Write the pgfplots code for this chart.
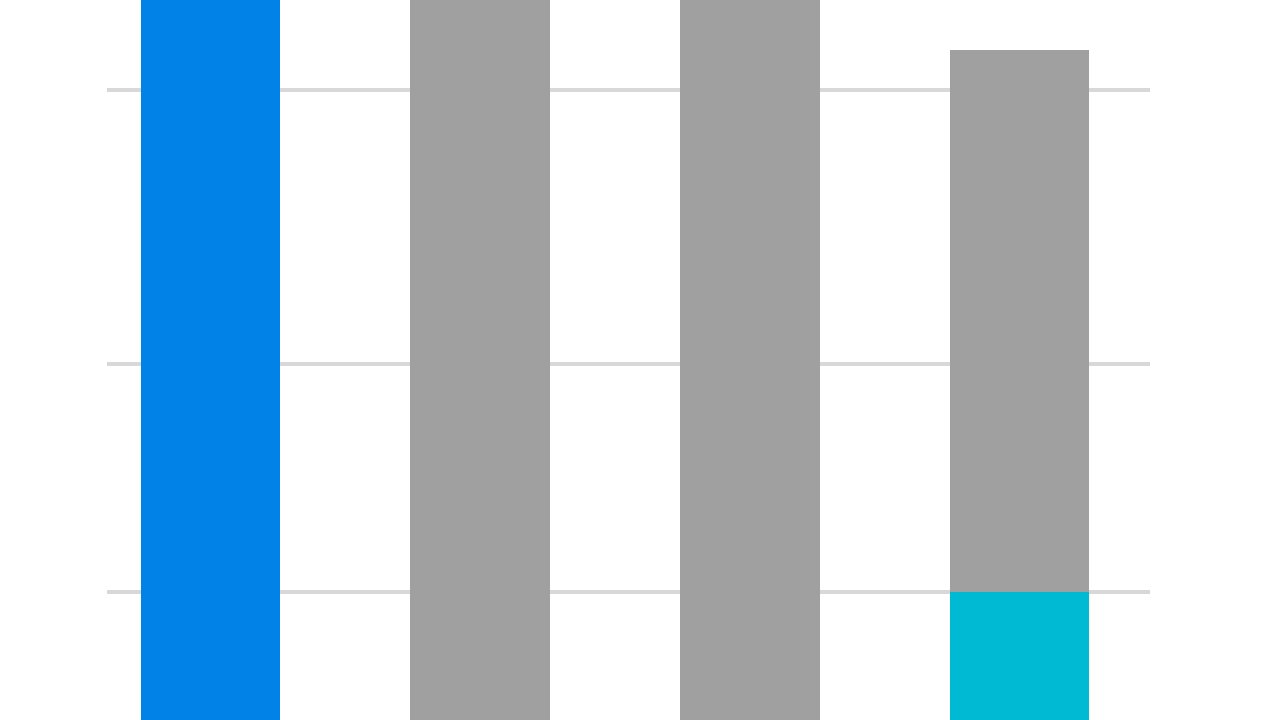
\documentclass[border=0pt]{standalone}
\usepackage{pgfplots}
\pgfplotsset{compat=1.18}
\definecolor{barblue}{RGB}{0,130,230}
\definecolor{barcyan}{RGB}{0,185,210}
\definecolor{bargray}{RGB}{160,160,160}
\definecolor{gridgray}{RGB}{216,216,216}
\begin{document}
\begin{tikzpicture}
\begin{axis}[
    scale only axis,
    width=12.8cm,height=7.2cm,
    xmin=0,xmax=1280,
    ymin=0,ymax=720,
    axis lines=box,
    axis line style={draw=none},
    xtick=\empty,ytick=\empty,
    clip=true,
]
% grid lines (pixel rows 90, 364, 592 from the top)
\addplot[gridgray,line width=1.15pt] coordinates {(107,630) (1150,630)};
\addplot[gridgray,line width=1.15pt] coordinates {(107,356) (1150,356)};
\addplot[gridgray,line width=1.15pt] coordinates {(107,128) (1150,128)};
% bars
\addplot[fill=barblue,draw=none] coordinates {(140.5,-10) (279.5,-10) (279.5,800) (140.5,800)} -- cycle;
\addplot[fill=bargray,draw=none] coordinates {(410,-10) (549.5,-10) (549.5,800) (410,800)} -- cycle;
\addplot[fill=bargray,draw=none] coordinates {(680,-10) (820,-10) (820,800) (680,800)} -- cycle;
\addplot[fill=bargray,draw=none] coordinates {(949.5,128) (1088.5,128) (1088.5,670) (949.5,670)} -- cycle;
\addplot[fill=barcyan,draw=none] coordinates {(949.5,-10) (1088.5,-10) (1088.5,128) (949.5,128)} -- cycle;
\end{axis}
\end{tikzpicture}
\end{document}
